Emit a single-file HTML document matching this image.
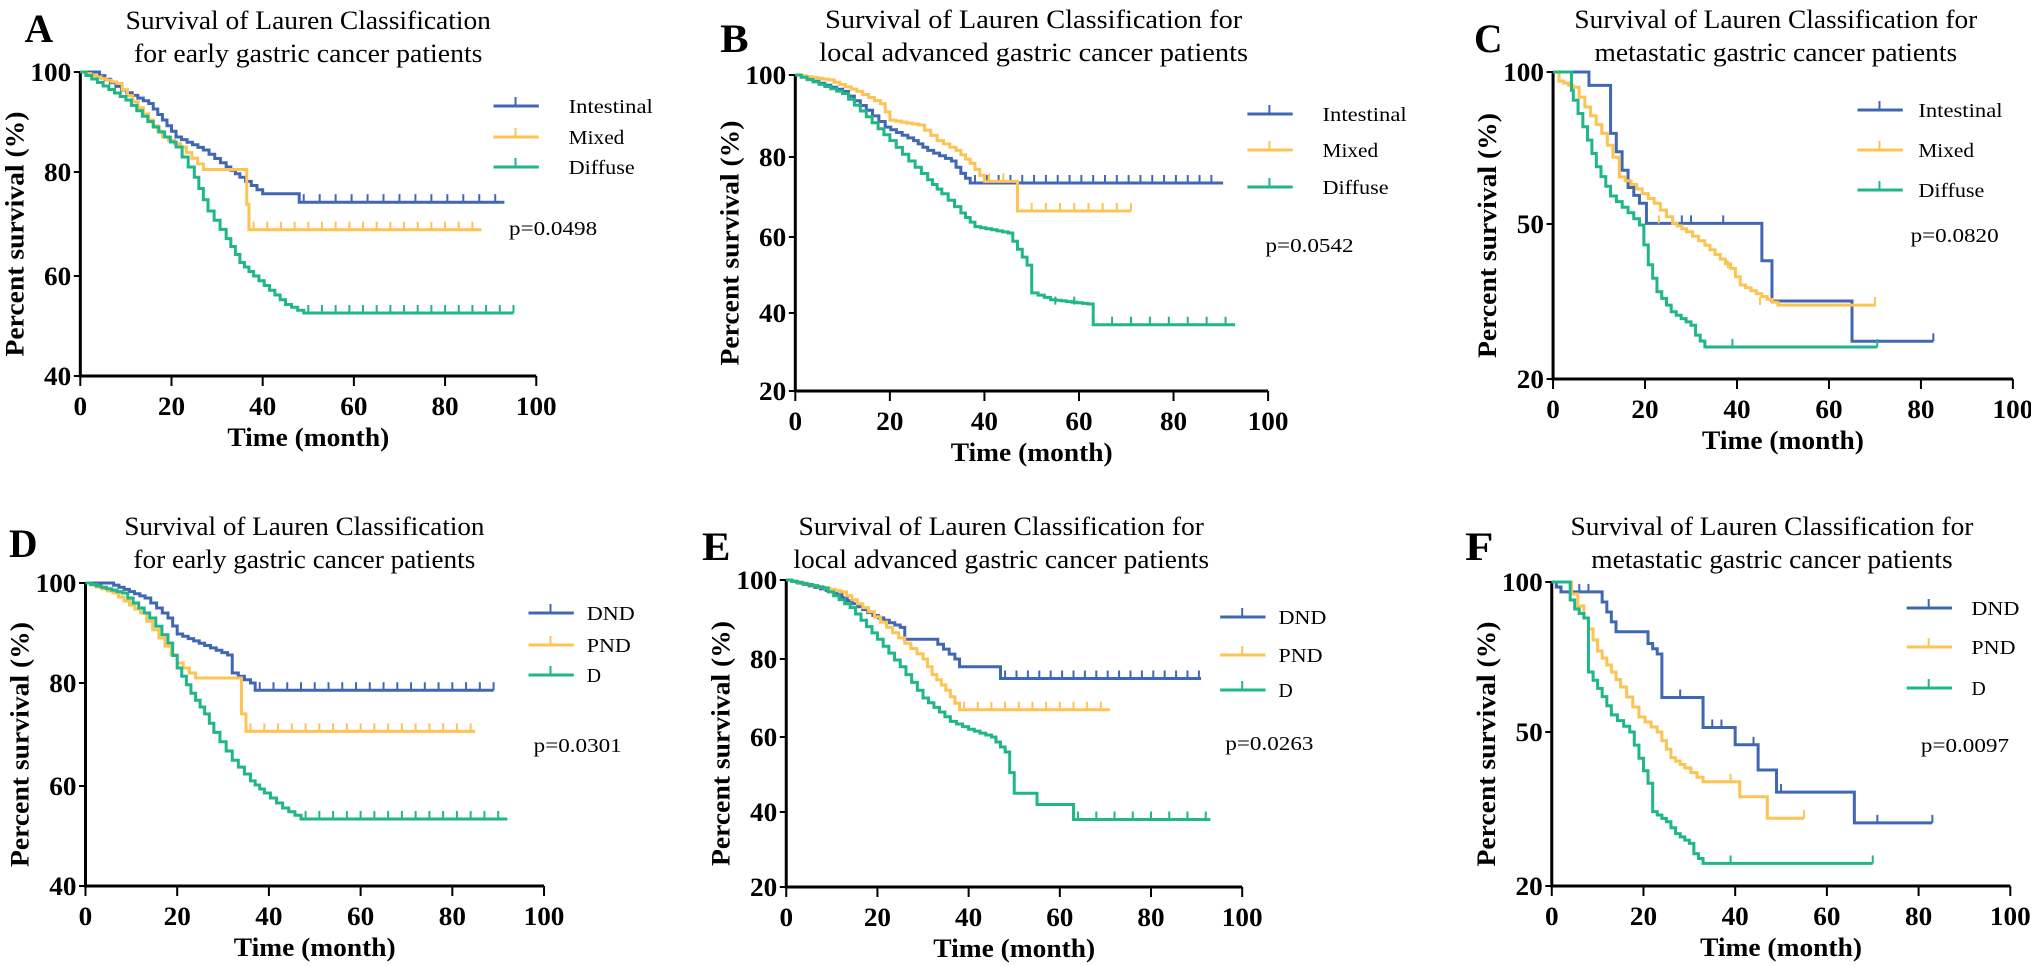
<!DOCTYPE html>
<html><head><meta charset="utf-8"><style>
html,body{margin:0;padding:0;background:#fff;}
svg{display:block;font-family:"Liberation Serif",serif;}
path,line{vector-effect:non-scaling-stroke;}
</style></head><body>
<svg width="2031" height="966" viewBox="0 0 2031 966" xmlns="http://www.w3.org/2000/svg"><g id="s" transform="scale(1.2953,1)"></g></svg>
<script>
const S=document.getElementById('s');let h='';
const C={b:'#4067b4',y:'#fdc454',g:'#1fb68a'};
function mapY(p,v){const t=p.yt;for(let i=0;i<t.length-1;i++){const a=t[i],b=t[i+1];if(v<=a[0]&&v>=b[0])return a[1]+(a[0]-v)/(a[0]-b[0])*(b[1]-a[1]);}return t[t.length-1][1];}
function curve(p,pts,col,ticks){
 const X=t=>p.x0+t*(p.x100-p.x0)/100;
 let d='M'+X(0)+','+mapY(p,100);
 for(let i=0;i<pts.length-1;i++){const [t1,s1]=pts[i],[t2,s2]=pts[i+1];
  if(s1===s2){d+=' H'+X(t2).toFixed(1);continue;}
  if(t1===t2){d+=' V'+mapY(p,s2).toFixed(1);continue;}
  const n=Math.max(1,Math.round((t2-t1)/1.2));
  for(let k=1;k<=n;k++){const t=t1+(t2-t1)*k/n,s=s1+(s2-s1)*k/n;d+=' H'+X(t).toFixed(1)+' V'+mapY(p,s).toFixed(1);}
 }
 h+=`<path d="${d}" fill="none" stroke="${col}" stroke-width="3"/>`;
 (ticks||[]).forEach(tt=>{let s=null;for(let i=0;i<pts.length-1;i++)if(tt>=pts[i][0]&&tt<=pts[i+1][0]){s=pts[i+1][1];if(pts[i][1]===pts[i+1][1])break;}if(s===null)s=pts[pts.length-1][1];const y=mapY(p,s);h+=`<line x1="${X(tt)}" x2="${X(tt)}" y1="${y-8}" y2="${y}" stroke="${col}" stroke-width="2"/>`;});
}
const TL={'Intestinal':65,'Mixed':43,'Diffuse':51,'DND':37,'PND':34,'D':11};
function panel(p){
 const yb=p.yt[p.yt.length-1][1], yTop=p.yt[0][1];
 h+=`<text x="${p.lx}" y="${p.ly}" font-size="40" font-weight="bold" textLength="22" lengthAdjust="spacingAndGlyphs">${p.L}</text>`;
 h+=`<text x="${p.tx}" y="${p.ty}" font-size="26" text-anchor="middle" textLength="${p.tw1}" lengthAdjust="spacingAndGlyphs">${p.t1}</text>`;
 h+=`<text x="${p.tx}" y="${p.ty+33}" font-size="26" text-anchor="middle" textLength="${p.tw2}" lengthAdjust="spacingAndGlyphs">${p.t2}</text>`;
 h+=`<path d="M${p.x0},${yTop} V${yb} H${p.x100}" fill="none" stroke="#000" stroke-width="3"/>`;
 p.yt.forEach(([v,y])=>{h+=`<line x1="${p.x0-5}" x2="${p.x0}" y1="${y}" y2="${y}" stroke="#000" stroke-width="2"/><text x="${p.x0-7}" y="${y+9}" font-size="26" font-weight="bold" text-anchor="end" textLength="${String(v).length*10.5}" lengthAdjust="spacingAndGlyphs">${v}</text>`;});
 for(let t=0;t<=100;t+=20){const x=p.x0+t*(p.x100-p.x0)/100;h+=`<line x1="${x}" x2="${x}" y1="${yb}" y2="${yb+10}" stroke="#000" stroke-width="2"/><text x="${x}" y="${yb+39}" font-size="26" font-weight="bold" text-anchor="middle" textLength="${String(t).length*10.5}" lengthAdjust="spacingAndGlyphs">${t}</text>`;}
 const mx=(p.x0+p.x100)/2;
 h+=`<text x="${mx}" y="${yb+70}" font-size="26" font-weight="bold" text-anchor="middle" textLength="125" lengthAdjust="spacingAndGlyphs">Time (month)</text>`;
 const my=(yTop+yb)/2+10;
 h+=`<text transform="translate(${p.x0-44},${my}) rotate(-90) scale(1,0.772)" font-size="26" font-weight="bold" text-anchor="middle" textLength="245" lengthAdjust="spacingAndGlyphs">Percent survival (%)</text>`;
 p.leg.forEach((nm,i)=>{const y=p.legy[i],col=[C.b,C.y,C.g][i];h+=`<line x1="${p.legx}" x2="${p.legx+35}" y1="${y}" y2="${y}" stroke="${col}" stroke-width="3"/><line x1="${p.legx+17}" x2="${p.legx+17}" y1="${y-9}" y2="${y}" stroke="${col}" stroke-width="2"/><text x="${p.legtx}" y="${y+7}" font-size="20" textLength="${TL[nm]}" lengthAdjust="spacingAndGlyphs">${nm}</text>`;});
 h+=`<text x="${p.px}" y="${p.py}" font-size="20" textLength="68" lengthAdjust="spacingAndGlyphs">${p.pv}</text>`;
 p.cv.forEach((c,i)=>curve(p,c[0],[C.b,C.y,C.g][i],c[1]));
}
const rng=(a,b,st)=>{const r=[];for(let t=a;t<=b;t+=st)r.push(+t.toFixed(1));return r;};
panel({L:'A',lx:19,ly:42,t1:'Survival of Lauren Classification',t2:'for early gastric cancer patients',tx:238,ty:29,tw1:282,tw2:269,
 x0:62,x100:414,yt:[[100,72],[80,172],[60,276],[40,376]],
 leg:['Intestinal','Mixed','Diffuse'],legx:381,legtx:439,legy:[106,137,167],px:393,py:235,pv:'p=0.0498',
 cv:[[[[0,100],[3,100],[9,96.4],[15,93.7],[18,90.4],[21,87],[27,84.4],[32,81],[35,79],[40,75.8],[47,75.8],[48,74.2],[93,74.2]],rng(49,93,3.5)],
     [[[0,100],[8,97.7],[15,90.4],[18,87],[22,85],[27,80.5],[35,80.5],[36.5,73.8],[37,68.9],[88,68.9]],rng(38,88,3)],
     [[[0,100],[10,94.4],[16,89],[21,85],[25,79],[28,72.5],[32,67.2],[35,62.6],[38,60],[45,54.3],[49,52.6],[95,52.6]],rng(50,95,3)]]});
panel({L:'B',lx:556,ly:52,t1:'Survival of Lauren Classification for',t2:'local advanced gastric cancer patients',tx:798,ty:28,tw1:322,tw2:331,
 x0:614,x100:979,yt:[[100,75],[80,157],[60,237],[40,313],[20,391]],
 leg:['Intestinal','Mixed','Diffuse'],legx:963,legtx:1021,legy:[114,150,187],px:977,py:252,pv:'p=0.0542',
 cv:[[[[0,100],[10,96],[15,91.4],[19,87.3],[25,84],[28,81.6],[33,79],[35,75.9],[37,73.5],[90.5,73.5]],rng(38,90,2.5)],
     [[[0,100],[7,98.8],[13,96],[18,93],[20,89],[26,87.8],[30,84],[34,81.6],[37,78.4],[40,73.9],[46.7,73.9],[47,66.5],[71,66.5]],rng(41,71,3)],
     [[[0,100],[10,95.5],[15,89.8],[20,84],[24,79],[28,74.3],[31,70.8],[35,66],[38,62.6],[45,61],[47,56.8],[49,52.6],[50,45.3],[54,43.5],[63,42.2],[63,37],[93,37]],rng(55,93,4)]]});
panel({L:'C',lx:1138,ly:52,t1:'Survival of Lauren Classification for',t2:'metastatic gastric cancer patients',tx:1371,ty:28,tw1:311,tw2:280,
 x0:1199,x100:1554,yt:[[100,72],[50,224],[20,379]],
 leg:['Intestinal','Mixed','Diffuse'],legx:1434,legtx:1481,legy:[110,150,190],px:1475,py:242,pv:'p=0.0820',
 cv:[[[[0,100],[7.8,100],[7.8,95.6],[12.5,95.6],[12.5,79.8],[15,67.7],[16.3,62],[18.8,56.8],[20.3,50.2],[45.4,50.2],[45.4,42.9],[47.6,42.9],[47.6,35.1],[65,35.1],[65,27.3],[82.7,27.3]],[28,30,37,82.7]],
     [[[0,100],[1.3,97],[4.4,95],[6.9,88.5],[10.6,79.8],[13,72],[14.4,65.5],[17,63],[19.4,60],[22,56.8],[26,50.2],[29,48.5],[33,45.9],[38.6,41.4],[40.7,38.2],[48.9,34.3],[70.2,34.3]],[23,38,45,70]],
     [[[0,100],[3,100],[4,94],[4.4,90.7],[7.5,77.6],[9.4,68.8],[12.5,59.2],[16.3,53.7],[18.8,49.8],[20.7,42.1],[22.6,36.9],[25.7,33],[30,30.4],[31,28.5],[33,26.2],[70.5,26.2]],[39,70.5]]]});
panel({L:'D',lx:7,ly:557,t1:'Survival of Lauren Classification',t2:'for early gastric cancer patients',tx:235,ty:535,tw1:278,tw2:264,
 x0:66,x100:420,yt:[[100,583],[80,683],[60,786],[40,886]],
 leg:['DND','PND','D'],legx:408,legtx:453,legy:[613,645,675],px:412,py:752,pv:'p=0.0301',
 cv:[[[[0,100],[5,100],[13,97],[18,93],[20,89.8],[26,87.5],[31,85.6],[32,82],[36,80],[37,78.6],[89,78.6]],rng(38,89,3)],
     [[[0,100],[6,98],[12,94],[16,89],[20,84],[24,81],[33,81],[34,74],[35,70.6],[85,70.6]],rng(36,85,3)],
     [[[0,100],[8,98],[14,93],[18,88],[20,83],[23,78],[26,74],[28,70.4],[32,65],[36,61],[39,58.6],[43,55.6],[47,53.4],[92,53.4]],rng(48,92,3)]]});
panel({L:'E',lx:542,ly:560,t1:'Survival of Lauren Classification for',t2:'local advanced gastric cancer patients',tx:773,ty:535,tw1:313,tw2:321,
 x0:607,x100:959,yt:[[100,580],[80,659],[60,737],[40,812],[20,887]],
 leg:['DND','PND','D'],legx:942,legtx:987,legy:[617,655,690],px:946,py:750,pv:'p=0.0263',
 cv:[[[[0,100],[10,97],[19,91],[25,88],[26,85],[32,85],[37,80],[38,78],[47,78],[47,75],[91,75]],rng(48,91,2.5)],
     [[[0,100],[12,97],[18,92],[22,88],[26,84],[30,80],[32,76],[35,72],[38,67],[71,67]],rng(39,71,3)],
     [[[0,100],[8,98],[14,93],[20,85],[25,78],[30,70],[36,64],[40,62],[45,60],[48,56],[50,45],[54,45],[55,42],[62,42],[63,38],[93,38]],rng(64,93,4)]]});
panel({L:'F',lx:1131,ly:560,t1:'Survival of Lauren Classification for',t2:'metastatic gastric cancer patients',tx:1368,ty:535,tw1:311,tw2:279,
 x0:1198,x100:1552,yt:[[100,582],[50,732],[20,886]],
 leg:['DND','PND','D'],legx:1472,legtx:1522,legy:[608,647,688],px:1483,py:752,pv:'p=0.0097',
 cv:[[[[0,100],[2,96.7],[10,96.7],[12,90],[14,83.4],[20,83.4],[21,79.5],[23,76],[24,61.5],[33,61.5],[33,51.5],[40,51.5],[40,47.5],[45,47.5],[45,42.6],[48,42.6],[49,38.3],[66,38.3],[66,32.3],[83,32.3]],[6,8,28,35,37,44,50,71,83]],
     [[[0,100],[3,100],[7,88],[10,77],[13,70],[15,65],[19,55],[23,50],[26,45],[29,43],[33,40.3],[41,40.3],[41,37.4],[47,37.4],[47,33.2],[55,33.2]],[39,55]],
     [[[0,100],[3,100],[4,94],[5,91],[7,88],[8,70],[11,61.8],[13,55.7],[17,50],[19,44.9],[21,40],[22,34.5],[25,32.5],[27,30.2],[30,28.3],[31,26.3],[33,24.4],[70,24.4]],[39,70]]]});
S.innerHTML=h;
</script>
</body></html>
